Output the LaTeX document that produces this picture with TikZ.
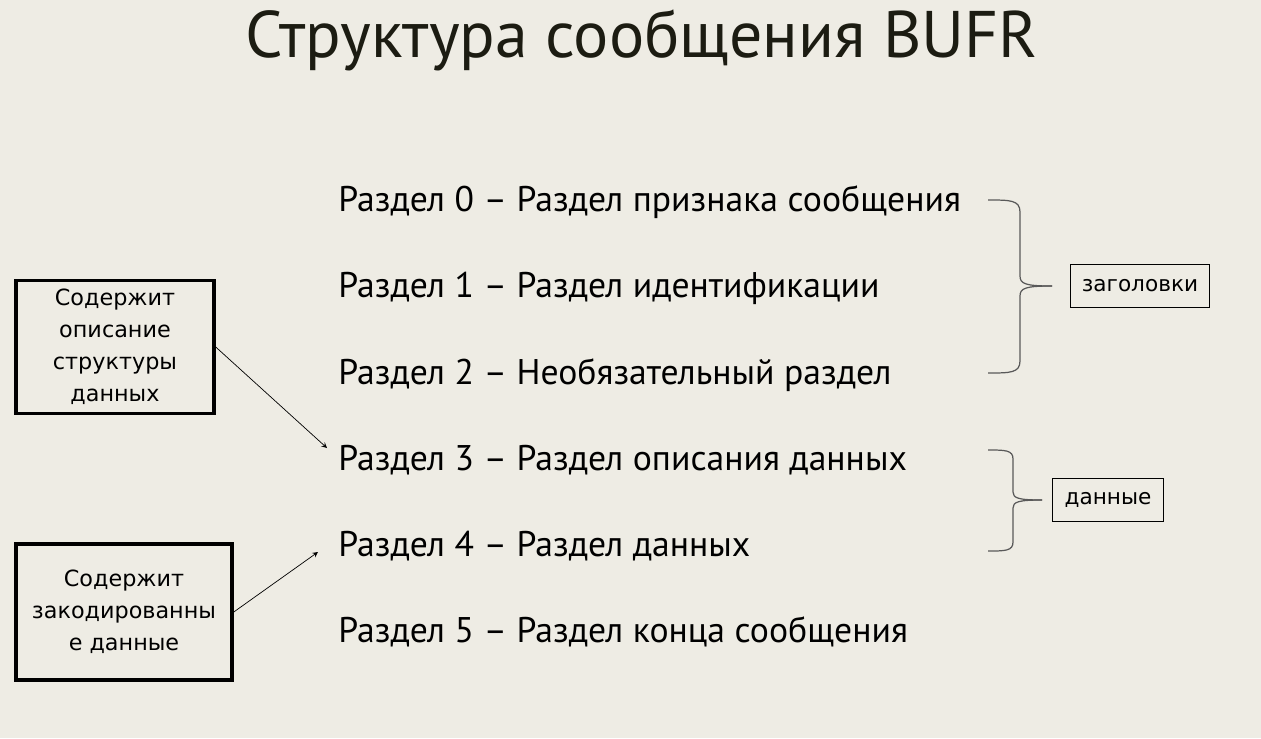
\documentclass[tikz,border=0pt]{standalone}
\usepackage{fontspec}
\setmainfont{PT Sans}
\newfontfamily\boxfont{DejaVu Sans}
\definecolor{slide}{RGB}{238,236,228}
\definecolor{ink}{RGB}{28,28,18}

\begin{document}
\begin{tikzpicture}[x=0.02cm,y=-0.02cm,>=stealth]
\tikzstyle{part}=[anchor=base west,inner sep=0pt,text=black,font=\fontsize{20.3}{24}\selectfont]
\tikzstyle{note}=[draw,line width=2pt,align=center,inner sep=0pt,font=\boxfont\fontsize{12.7}{18.2}\selectfont]
\tikzstyle{tag}=[draw,line width=0.5pt,inner sep=0pt,font=\boxfont\fontsize{12.3}{14}\selectfont]
\tikzstyle{brace}=[draw=black!65,line width=0.7pt]
\fill[slide] (0,0) rectangle (1261,738);
\useasboundingbox (0,0) rectangle (1261,738);

\node[anchor=base,inner sep=0pt,text=ink,font=\fontsize{37.5}{44}\selectfont] (title) at (642,57) {Структура сообщения BUFR};

\node[part] (S0) at (338,211) {Раздел 0 -- Раздел признака сообщения};
\node[part] (S1) at (338,297) {Раздел 1 -- Раздел идентификации};
\node[part] (S2) at (338,384) {Раздел 2 -- Необязательный раздел};
\node[part] (S3) at (338,470) {Раздел 3 -- Раздел описания данных};
\node[part] (S4) at (338,556) {Раздел 4 -- Раздел данных};
\node[part] (S5) at (338,642) {Раздел 5 -- Раздел конца сообщения};

\node[note,minimum width=198*0.02cm,minimum height=133*0.02cm] (A) at (115,347) {Содержит\\описание\\структуры\\данных};
\node[note,minimum width=216*0.02cm,minimum height=136*0.02cm] (B) at (124,612) {Содержит\\закодированны\\е данные};

\node[tag,minimum width=139*0.02cm,minimum height=43*0.02cm] (H) at (1140,286) {заголовки};
\node[tag,minimum width=111*0.02cm,minimum height=43*0.02cm] (D) at (1108,500) {данные};

\coordinate (Aend) at (327,448);
\coordinate (Bend) at (318,552);
\draw[->] (A.east) -- (Aend);
\draw[->] (B.east) -- (Bend);

\draw[brace] (988,200) .. controls (1010,200) and (1020,200) .. (1020,212) -- (1020,276) .. controls (1020,284) and (1026,286) .. (1052,286);
\draw[brace] (988,373) .. controls (1010,373) and (1020,373) .. (1020,361) -- (1020,296) .. controls (1020,288) and (1026,286) .. (1052,286);
\draw[brace] (988,450) .. controls (1005,450) and (1013,450) .. (1013,459) -- (1013,492) .. controls (1013,498) and (1018,500) .. (1042,500);
\draw[brace] (988,551) .. controls (1005,551) and (1013,551) .. (1013,542) -- (1013,508) .. controls (1013,502) and (1018,500) .. (1042,500);
\end{tikzpicture}
\end{document}
